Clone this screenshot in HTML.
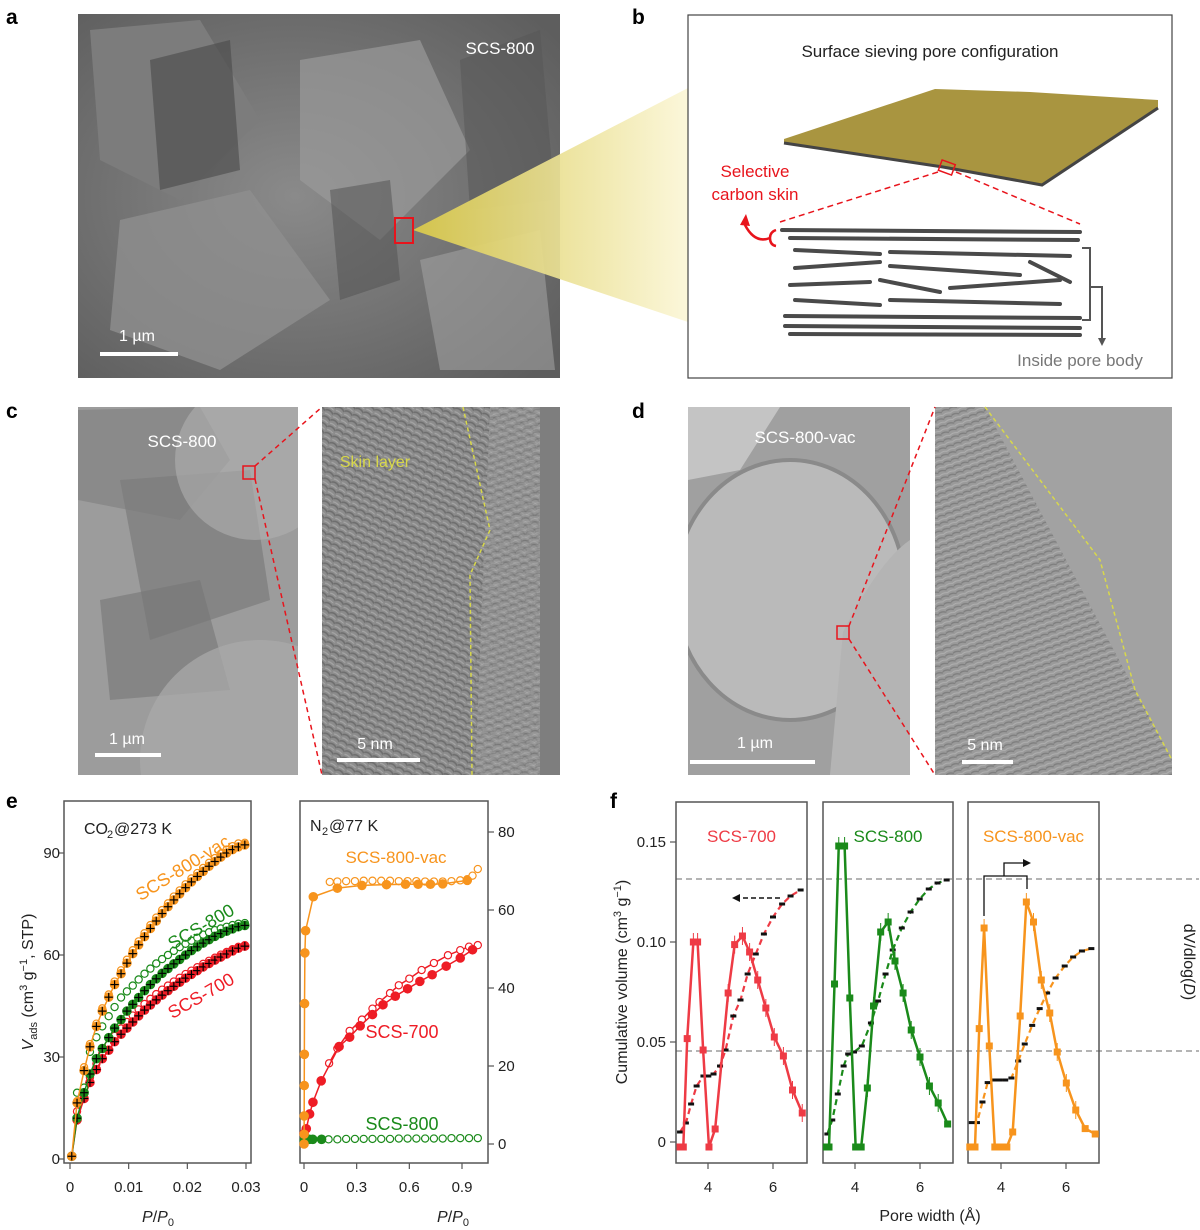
<!DOCTYPE html>
<html><head><meta charset="utf-8"><style>
html,body{margin:0;padding:0;background:#fff;}
svg{display:block;font-family:"Liberation Sans",sans-serif;}
</style></head><body>
<svg id="fig" width="1200" height="1230" viewBox="0 0 1200 1230" xmlns="http://www.w3.org/2000/svg">
<defs>
<linearGradient id="cone" x1="0" y1="0" x2="1" y2="0"><stop offset="0" stop-color="#d8c84a" stop-opacity="0.95"/><stop offset="1" stop-color="#fbf6d6" stop-opacity="0.9"/></linearGradient>
<radialGradient id="sem" cx="0.45" cy="0.5" r="0.7"><stop offset="0" stop-color="#8a8a8a"/><stop offset="1" stop-color="#5e5e5e"/></radialGradient>
<pattern id="hr" width="9" height="7" patternUnits="userSpaceOnUse" patternTransform="rotate(25)"><rect width="9" height="7" fill="#8c8c8c"/><path d="M0 3 Q4 0 9 4" stroke="#6e6e6e" stroke-width="1.6" fill="none"/><path d="M1 6 Q4 5 8 7" stroke="#a8a8a8" stroke-width="1.2" fill="none"/></pattern>
<pattern id="hr2" width="8" height="7" patternUnits="userSpaceOnUse" patternTransform="rotate(-20)"><rect width="8" height="7" fill="#9a9a9a"/><path d="M0 2 Q3 0 8 3" stroke="#7e7e7e" stroke-width="1.3" fill="none"/><path d="M0 6 Q3 4 8 6" stroke="#b0b0b0" stroke-width="1" fill="none"/></pattern>
<clipPath id="clipA"><rect x="78" y="14" width="482" height="364"/></clipPath>
<clipPath id="clipC1"><rect x="78" y="407" width="220" height="368"/></clipPath>
<clipPath id="clipC2"><rect x="322" y="407" width="238" height="368"/></clipPath>
<clipPath id="clipD1"><rect x="688" y="407" width="222" height="368"/></clipPath>
<clipPath id="clipD2"><rect x="935" y="407" width="237" height="368"/></clipPath>
</defs>

<g font-weight="bold" font-size="21" fill="#000">
<text x="6" y="24">a</text>
<text x="632" y="24">b</text>
<text x="6" y="418">c</text>
<text x="632" y="418">d</text>
<text x="6" y="808">e</text>
<text x="610" y="808">f</text>
</g>

<g clip-path="url(#clipA)">
<rect x="78" y="14" width="482" height="364" fill="url(#sem)"/>
<path d="M90 30 L200 20 L260 120 L180 200 L100 160 Z" fill="#7c7c7c"/>
<path d="M300 60 L420 40 L470 150 L380 240 L300 180 Z" fill="#9a9a9a" opacity="0.7"/>
<path d="M120 220 L250 190 L330 300 L220 370 L110 330 Z" fill="#8e8e8e" opacity="0.8"/>
<path d="M420 260 L540 230 L555 370 L440 370 Z" fill="#a0a0a0" opacity="0.6"/>
<path d="M150 60 L230 40 L240 170 L160 190 Z" fill="#4a4a4a" opacity="0.6"/>
<path d="M330 190 L390 180 L400 280 L340 300 Z" fill="#505050" opacity="0.5"/>
<path d="M460 60 L540 30 L555 200 L470 210 Z" fill="#555" opacity="0.5"/>
</g>
<polygon points="413,230 688,88 688,322" fill="url(#cone)"/>
<rect x="395" y="218" width="18" height="25" fill="none" stroke="#e8141c" stroke-width="2"/>
<text x="500" y="54" fill="#fff" font-size="17" text-anchor="middle">SCS-800</text>
<line x1="100" y1="354" x2="178" y2="354" stroke="#fff" stroke-width="4"/>
<text x="137" y="341" fill="#fff" font-size="16" text-anchor="middle">1 µm</text>

<g>
<rect x="688" y="15" width="484" height="363" fill="#fff" stroke="#444" stroke-width="1.2"/>
<text x="930" y="57" font-size="17" text-anchor="middle" fill="#222">Surface sieving pore configuration</text>
<polygon points="784,139 935,89 1030,92 1158,100 1158,108 1042,185 943,167 784,143" fill="#a99540"/>
<polyline points="784,143 943,167 1042,185 1158,108" fill="none" stroke="#444" stroke-width="3"/>
<rect x="940" y="162" width="14" height="11" fill="none" stroke="#e8141c" stroke-width="1.5" transform="rotate(20 947 167)"/>
<line x1="938" y1="172" x2="780" y2="222" stroke="#e8141c" stroke-width="1.5" stroke-dasharray="6,4"/>
<line x1="956" y1="172" x2="1080" y2="224" stroke="#e8141c" stroke-width="1.5" stroke-dasharray="6,4"/>
<text x="755" y="177" font-size="17" fill="#e8141c" text-anchor="middle">Selective</text>
<text x="755" y="200" font-size="17" fill="#e8141c" text-anchor="middle">carbon skin</text>
<path d="M776 230 Q770 232 770 238 Q755 244 745 225 M770 238 Q770 245 776 246" fill="none" stroke="#e8141c" stroke-width="2.5"/>
<polygon points="740,225 746,214 750,226" fill="#e8141c"/>
<g stroke="#4a4a4a" stroke-width="4" stroke-linecap="round">
<line x1="782" y1="230" x2="1080" y2="232"/><line x1="790" y1="238" x2="1078" y2="240"/>
<line x1="795" y1="250" x2="880" y2="254"/><line x1="890" y1="252" x2="1070" y2="256"/>
<line x1="795" y1="268" x2="880" y2="262"/><line x1="890" y1="266" x2="1020" y2="275"/><line x1="1030" y1="262" x2="1070" y2="282"/>
<line x1="790" y1="285" x2="870" y2="282"/><line x1="880" y1="280" x2="940" y2="292"/><line x1="950" y1="288" x2="1060" y2="280"/>
<line x1="795" y1="300" x2="880" y2="305"/><line x1="890" y1="300" x2="1060" y2="304"/>
<line x1="785" y1="316" x2="1080" y2="318"/><line x1="785" y1="326" x2="1080" y2="328"/><line x1="790" y1="334" x2="1080" y2="335"/>
</g>
<polyline points="1082,248 1090,248 1090,320 1082,320" fill="none" stroke="#555" stroke-width="2"/>
<polyline points="1090,287 1102,287 1102,340" fill="none" stroke="#555" stroke-width="2"/>
<polygon points="1098,338 1106,338 1102,346" fill="#555"/>
<text x="1080" y="366" font-size="17" fill="#777" text-anchor="middle">Inside pore body</text>
</g>

<g clip-path="url(#clipC1)">
<rect x="78" y="407" width="220" height="368" fill="#9c9c9c"/>
<path d="M78 410 L200 407 L230 460 L180 520 L78 500 Z" fill="#8a8a8a"/>
<path d="M120 480 L250 470 L270 600 L150 640 Z" fill="#7c7c7c" opacity="0.7"/>
<path d="M100 600 L200 580 L230 690 L110 700 Z" fill="#777" opacity="0.6"/>
<circle cx="255" cy="460" r="80" fill="#b0b0b0" opacity="0.6"/>
<circle cx="260" cy="760" r="120" fill="#ababab" opacity="0.7"/>
</g>
<g clip-path="url(#clipC2)">
<rect x="322" y="407" width="238" height="368" fill="url(#hr)"/>
<path d="M490 407 L560 407 L560 775 L475 775 Z" fill="url(#hr2)" opacity="0.6"/>
<rect x="540" y="407" width="20" height="368" fill="#7e7e7e"/>
</g>
<polyline points="463,407 490,530 470,575 472,775" fill="none" stroke="#d8d84a" stroke-width="1.5" stroke-dasharray="4,3"/>
<rect x="243" y="466" width="12" height="13" fill="none" stroke="#e8141c" stroke-width="1.5"/>
<line x1="255" y1="466" x2="322" y2="407" stroke="#e8141c" stroke-width="1.5" stroke-dasharray="5,4"/>
<line x1="255" y1="479" x2="322" y2="775" stroke="#e8141c" stroke-width="1.5" stroke-dasharray="5,4"/>
<text x="182" y="447" fill="#fff" font-size="17" text-anchor="middle">SCS-800</text>
<text x="375" y="467" fill="#d8d84a" font-size="16" text-anchor="middle">Skin layer</text>
<line x1="95" y1="755" x2="161" y2="755" stroke="#fff" stroke-width="4"/>
<text x="127" y="744" fill="#fff" font-size="16" text-anchor="middle">1 µm</text>
<line x1="337" y1="760" x2="420" y2="760" stroke="#fff" stroke-width="4"/>
<text x="375" y="749" fill="#fff" font-size="16" text-anchor="middle">5 nm</text>

<g clip-path="url(#clipD1)">
<rect x="688" y="407" width="222" height="368" fill="#a0a0a0"/>
<ellipse cx="790" cy="590" rx="115" ry="130" fill="#bababa" stroke="#8a8a8a" stroke-width="4"/>
<path d="M843 632 Q880 560 910 540 L910 775 L830 775 Z" fill="#b4b4b4"/>
<path d="M688 407 L780 407 L740 470 L688 480 Z" fill="#c4c4c4"/>
</g>
<g clip-path="url(#clipD2)">
<rect x="935" y="407" width="237" height="368" fill="url(#hr2)"/>
<path d="M985 407 L1172 407 L1172 760 L1135 690 Z" fill="#a2a2a2"/>
</g>
<polyline points="985,407 1040,480 1100,560 1135,690 1172,760" fill="none" stroke="#d8d84a" stroke-width="1.5" stroke-dasharray="4,3"/>
<rect x="837" y="626" width="12" height="13" fill="none" stroke="#e8141c" stroke-width="1.5"/>
<line x1="849" y1="626" x2="935" y2="407" stroke="#e8141c" stroke-width="1.5" stroke-dasharray="5,4"/>
<line x1="849" y1="639" x2="935" y2="775" stroke="#e8141c" stroke-width="1.5" stroke-dasharray="5,4"/>
<text x="805" y="443" fill="#fff" font-size="17" text-anchor="middle">SCS-800-vac</text>
<line x1="690" y1="762" x2="815" y2="762" stroke="#fff" stroke-width="4"/>
<text x="755" y="748" fill="#fff" font-size="16" text-anchor="middle">1 µm</text>
<line x1="962" y1="762" x2="1013" y2="762" stroke="#fff" stroke-width="4"/>
<text x="985" y="750" fill="#fff" font-size="16" text-anchor="middle">5 nm</text>

<g id="charts"></g>
</svg>
<script>
// ---- panel e, CO2 ----
const co2X = [0.0003,0.0012,0.0024,0.0034,0.0045,0.0055,0.0066,0.0076,0.0087,0.0097,0.0107,0.0117,0.0127,0.0137,0.0147,0.0157,0.0167,0.0177,0.0187,0.0197,0.0207,0.0217,0.0227,0.0237,0.0247,0.0257,0.0267,0.0277,0.0287,0.0298];
const co2Vac = [0.8,16.5,26,33,39,43.5,47.6,51.3,54.5,57.6,60.4,63,65.4,67.8,70,72.2,74.2,76.2,78,79.8,81.5,83.1,84.6,86.1,87.5,88.8,90,91,91.8,92.4];
const co2VacDes = [0.8,17,27,33.8,39.8,44.3,48.4,52.2,55.5,58.6,61.4,64,66.4,68.8,71,73.2,75.2,77.2,79,80.8,82.5,84.1,85.6,87.1,88.5,89.8,91,92,92.8,93];
const co2S800 = [0.8,12,19.5,25,29.5,32.5,35.7,38.5,41,43.5,45.5,47.5,49.5,51.3,53,54.6,56,57.4,58.7,60,61.3,62.4,63.5,64.5,65.5,66.3,67,67.7,68.3,68.7];
const co2S800Des = [0.8,19.5,21,31.5,35.8,39,42,44.7,47.5,49.3,51,52.8,54.5,56,57.5,58.8,60,61.2,62.3,63.3,64.2,65.1,66,66.7,67.3,67.8,68.3,68.8,69.2,69.4];
const co2S700 = [0.8,11.5,17.8,22.5,26.3,29.5,32,34.5,36.7,38.5,40.3,42.1,43.8,45.3,46.8,48.2,49.5,50.8,52,53.2,54.3,55.4,56.5,57.5,58.5,59.4,60.3,61.2,62,62.6];
const co2S700Des = [0.8,14,19,24,28,31,33.6,36.2,38.4,40.3,42.2,44,45.6,47.1,48.5,49.8,51,52.2,53.3,54.4,55.4,56.4,57.4,58.3,59.2,60.1,60.9,61.7,62.4,62.9];
const co2XTicks = [0,0.01,0.02,0.03];
const co2YTicks = [0,30,60,90];
// ---- panel e, N2 ----
const n2VacX = [0.0003,0.0006,0.001,0.0015,0.002,0.003,0.005,0.009,0.053,0.19,0.33,0.47,0.578,0.65,0.72,0.79,0.93];
const n2Vac = [0,2.5,7.2,15,23,36,49,54.7,63.4,65.6,66.3,66.5,66.6,66.6,66.6,66.7,67.6];
const n2VacDesX = [0.147,0.19,0.24,0.29,0.34,0.39,0.44,0.49,0.54,0.59,0.64,0.69,0.74,0.79,0.84,0.89,0.93,0.96,0.99];
const n2VacDes = [67.2,67.3,67.4,67.4,67.5,67.5,67.5,67.5,67.4,67.4,67.4,67.3,67.3,67.3,67.4,67.6,67.9,68.8,70.5];
const n2S700X = [0.0005,0.013,0.032,0.051,0.098,0.2,0.26,0.32,0.39,0.45,0.52,0.59,0.66,0.73,0.81,0.89,0.96];
const n2S700 = [2.7,3.9,7.7,10.7,16.2,25,27.4,30.3,33.2,35.7,37.9,39.8,41.7,43.4,45.6,47.7,49.8];
const n2S700DesX = [0.143,0.19,0.26,0.33,0.39,0.43,0.49,0.54,0.6,0.67,0.74,0.82,0.89,0.94,0.99];
const n2S700Des = [20.7,24.5,29,31.9,34.7,36.4,38.7,40.7,42.4,44.6,46.4,48.4,49.7,50.6,51];
const n2S800X = [0.002,0.01,0.02,0.03,0.05,0.1];
const n2S800 = [1.0,1.1,1.2,1.2,1.2,1.2];
const n2S800DesX = [0.05,0.14,0.19,0.24,0.29,0.34,0.39,0.44,0.49,0.54,0.59,0.64,0.69,0.74,0.79,0.84,0.89,0.94,0.99];
const n2S800Des = [1.2,1.2,1.2,1.3,1.3,1.3,1.3,1.3,1.3,1.4,1.4,1.4,1.4,1.4,1.4,1.5,1.5,1.5,1.5];
const n2XTicks = [0,0.3,0.6,0.9];
const n2YTicks = [0,20,40,60,80];
// ---- panel f ----
const p700X = [3.14,3.24,3.36,3.55,3.68,3.85,4.03,4.22,4.62,4.82,5.06,5.28,5.53,5.78,6.04,6.32,6.6,6.9];
const p700 = [-0.0025,-0.0025,0.0517,0.1,0.1,0.046,-0.0025,0.0065,0.0745,0.0987,0.103,0.095,0.081,0.067,0.0525,0.043,0.026,0.0145];
const c700X = [3.14,3.32,3.48,3.65,3.86,4.01,4.17,4.37,4.54,4.78,5.0,5.22,5.47,5.72,6.0,6.28,6.54,6.85];
const c700 = [0.005,0.0095,0.019,0.028,0.033,0.033,0.034,0.038,0.046,0.063,0.071,0.084,0.094,0.104,0.1125,0.119,0.123,0.126];
const p800X = [3.12,3.2,3.37,3.5,3.68,3.84,4.02,4.19,4.38,4.57,4.79,5.02,5.23,5.48,5.73,6.0,6.29,6.56,6.85];
const p800 = [-0.0025,-0.0025,0.079,0.148,0.148,0.072,-0.0025,-0.0025,0.027,0.068,0.105,0.11,0.0905,0.0745,0.056,0.0425,0.028,0.0195,0.009];
const c800X = [3.15,3.3,3.47,3.65,3.79,3.97,4.21,4.49,4.71,4.94,5.16,5.44,5.71,5.99,6.27,6.54,6.82];
const c800 = [0.004,0.011,0.024,0.038,0.044,0.045,0.048,0.0595,0.0705,0.084,0.096,0.107,0.115,0.1215,0.1265,0.1295,0.131];
const pVacX = [3.04,3.2,3.33,3.48,3.64,3.81,4.0,4.18,4.36,4.59,4.78,5.0,5.24,5.5,5.73,6.01,6.3,6.59,6.9];
const pVac = [-0.0025,-0.0025,0.0567,0.107,0.048,-0.0025,-0.0025,-0.0025,0.005,0.063,0.12,0.11,0.081,0.0645,0.045,0.0295,0.016,0.0067,0.004];
const cVacX = [3.1,3.26,3.43,3.59,3.77,3.95,4.13,4.32,4.53,4.73,4.96,5.19,5.42,5.68,5.96,6.22,6.49,6.78];
const cVac = [0.0097,0.0097,0.02,0.0297,0.031,0.031,0.031,0.032,0.0405,0.049,0.0583,0.0667,0.0745,0.082,0.088,0.0925,0.0955,0.0967];
const fYTicks = [0,0.05,0.10,0.15];
const fYTickLabels = ['0','0.05','0.10','0.15'];
const fXTicks = [4,6];

const NS='http://www.w3.org/2000/svg';
const root=document.getElementById('charts');
function mk(tag,attrs,parent){const e=document.createElementNS(NS,tag);for(const k in attrs)e.setAttribute(k,attrs[k]);(parent||root).appendChild(e);return e;}
function txt(x,y,s,attrs,parent){const e=mk('text',Object.assign({x:x,y:y},attrs),parent);e.textContent=s;return e;}

const RED='#ee1c25', GRN='#1a8a1a', ORG='#f7941d';

const cx=v=>70+v*(176/0.03), cy=v=>1159-v*(102/30);
const gE1=mk('g',{});


mk('rect',{x:64,y:801,width:187,height:362,fill:'none',stroke:'#555','stroke-width':1.5},gE1);
co2XTicks.forEach(t=>{mk('line',{x1:cx(t),y1:1163,x2:cx(t),y2:1169,stroke:'#555','stroke-width':1.2},gE1);
 const l=txt(cx(t),1192,String(t),{'font-size':15,'text-anchor':'middle',fill:'#222'},gE1);
 
 });
co2YTicks.forEach(t=>{mk('line',{x1:58,y1:cy(t),x2:64,y2:cy(t),stroke:'#555','stroke-width':1.2},gE1);
 const l=txt(60,cy(t)+5,String(t),{'font-size':15,'text-anchor':'end',fill:'#222'},gE1);
 
 });
function series(xs,ys,fx,fy,col,filled,line,parent,name,r,cross){
 const g=mk('g',{},parent);
 
 
 if(line){mk('polyline',{points:xs.map((x,i)=>fx(x)+','+fy(ys[i])).join(' '),fill:'none',stroke:col,'stroke-width':1.5},g);}
 xs.forEach((x,i)=>{const c=mk('circle',{cx:fx(x),cy:fy(ys[i]),r:r,fill:filled?col:'#fff',stroke:col,'stroke-width':1.2},g);
  
  
  if(cross){mk('line',{x1:fx(x)-r,y1:fy(ys[i]),x2:fx(x)+r,y2:fy(ys[i]),stroke:'#000','stroke-width':1.2},g);mk('line',{x1:fx(x),y1:fy(ys[i])-r,x2:fx(x),y2:fy(ys[i])+r,stroke:'#000','stroke-width':1.2},g);}});
}
series(co2X,co2S700Des,cx,cy,RED,false,false,gE1,'co2-scs700-desorption',3.6);
series(co2X,co2S700,cx,cy,RED,true,true,gE1,'co2-scs700-adsorption',4.2,true);
series(co2X,co2S800Des,cx,cy,GRN,false,false,gE1,'co2-scs800-desorption',3.6);
series(co2X,co2S800,cx,cy,GRN,true,true,gE1,'co2-scs800-adsorption',4.2,true);
series(co2X,co2VacDes,cx,cy,ORG,false,false,gE1,'co2-scs800vac-desorption',3.6);
series(co2X,co2Vac,cx,cy,ORG,true,true,gE1,'co2-scs800vac-adsorption',4.2,true);
txt(84,834,'CO',{'font-size':16,fill:'#222'},gE1);
txt(107,838,'2',{'font-size':11,fill:'#222'},gE1);
txt(114,834,'@273 K',{'font-size':16,fill:'#222'},gE1);
txt(186,873,'SCS-800-vac',{'font-size':18,fill:ORG,'text-anchor':'middle',transform:'rotate(-32 186 873)'},gE1);
txt(204,932,'SCS-800',{'font-size':18,fill:GRN,'text-anchor':'middle',transform:'rotate(-30 204 932)'},gE1);
txt(204,1001,'SCS-700',{'font-size':18,fill:RED,'text-anchor':'middle',transform:'rotate(-30 204 1001)'},gE1);
const ylE=txt(0,0,'',{'font-size':16,fill:'#222','text-anchor':'middle',transform:'translate(33 982) rotate(-90)'},gE1);
ylE.innerHTML='<tspan font-style="italic">V</tspan><tspan font-size="11" dy="4">ads</tspan><tspan dy="-4"> (cm</tspan><tspan font-size="11" dy="-6">3</tspan><tspan dy="6"> g</tspan><tspan font-size="11" dy="-6">−1</tspan><tspan dy="6">, STP)</tspan>';


const xlE1=txt(158,1222,'',{'font-size':16,fill:'#222','text-anchor':'middle'},gE1);
xlE1.innerHTML='<tspan font-style="italic">P</tspan>/<tspan font-style="italic">P</tspan><tspan font-size="11" dy="4">0</tspan>';



const nx=v=>304+v*(158/0.9), ny=v=>1144-v*(312/80);
const gE2=mk('g',{});


mk('rect',{x:300,y:801,width:188,height:362,fill:'none',stroke:'#555','stroke-width':1.5},gE2);
n2XTicks.forEach(t=>{mk('line',{x1:nx(t),y1:1163,x2:nx(t),y2:1169,stroke:'#555','stroke-width':1.2},gE2);
 const l=txt(nx(t),1192,String(t),{'font-size':15,'text-anchor':'middle',fill:'#222'},gE2);
 
 });
n2YTicks.forEach(t=>{mk('line',{x1:488,y1:ny(t),x2:494,y2:ny(t),stroke:'#555','stroke-width':1.2},gE2);
 const l=txt(498,ny(t)+5,String(t),{'font-size':15,'text-anchor':'start',fill:'#222'},gE2);
 
 });
series(n2S800DesX,n2S800Des,nx,ny,GRN,false,false,gE2,'n2-scs800-desorption',3.6);
series(n2S800X,n2S800,nx,ny,GRN,true,true,gE2,'n2-scs800-adsorption',4.2);
series(n2S700DesX,n2S700Des,nx,ny,RED,false,true,gE2,'n2-scs700-desorption',3.6);
series(n2S700X,n2S700,nx,ny,RED,true,true,gE2,'n2-scs700-adsorption',4.2);
series(n2VacDesX,n2VacDes,nx,ny,ORG,false,false,gE2,'n2-scs800vac-desorption',3.6);
series(n2VacX,n2Vac,nx,ny,ORG,true,true,gE2,'n2-scs800vac-adsorption',4.2);
txt(310,831,'N',{'font-size':16,fill:'#222'},gE2);
txt(322,835,'2',{'font-size':11,fill:'#222'},gE2);
txt(329,831,'@77 K',{'font-size':16,fill:'#222'},gE2);
txt(396,863,'SCS-800-vac',{'font-size':17,fill:ORG,'text-anchor':'middle'},gE2);
txt(402,1038,'SCS-700',{'font-size':18,fill:RED,'text-anchor':'middle'},gE2);
txt(402,1130,'SCS-800',{'font-size':18,fill:GRN,'text-anchor':'middle'},gE2);
const xlE2=txt(453,1222,'',{'font-size':16,fill:'#222','text-anchor':'middle'},gE2);
xlE2.innerHTML='<tspan font-style="italic">P</tspan>/<tspan font-style="italic">P</tspan><tspan font-size="11" dy="4">0</tspan>';



const fy=v=>1142-v*2000;
const gF=mk('g',{});


[879,1051].forEach(y=>mk('line',{x1:676,y1:y,x2:1199,y2:y,stroke:'#888','stroke-width':1.3,'stroke-dasharray':'6,4'},gF));
const panels=[
 {left:676,w:131,x4:708,px:p700X,pv:p700,cxs:c700X,cv:c700,col:'#ee3b45',name:'scs700',label:'SCS-700'},
 {left:823,w:130,x4:855,px:p800X,pv:p800,cxs:c800X,cv:c800,col:'#1a8a1a',name:'scs800',label:'SCS-800'},
 {left:968,w:131,x4:1001,px:pVacX,pv:pVac,cxs:cVacX,cv:cVac,col:ORG,name:'scs800vac',label:'SCS-800-vac'}];
panels.forEach(p=>{
 const fx=v=>p.x4+(v-4)*32.5;
 const g=mk('g',{},gF);
 
 
 mk('rect',{x:p.left,y:802,width:p.w,height:361,fill:'none',stroke:'#555','stroke-width':1.5},g);
 fXTicks.forEach(t=>{mk('line',{x1:fx(t),y1:1163,x2:fx(t),y2:1169,stroke:'#555','stroke-width':1.2},g);
  const l=txt(fx(t),1192,String(t),{'font-size':15,'text-anchor':'middle',fill:'#222'},g);
  
  });
 const cl=mk('polyline',{points:p.cxs.map((x,i)=>fx(x)+','+fy(p.cv[i])).join(' '),fill:'none',stroke:p.col,'stroke-width':2.2,'stroke-dasharray':'6,4'},g);
 
 
 p.cxs.forEach((x,i)=>{const d=mk('rect',{x:fx(x)-3,y:fy(p.cv[i])-1.5,width:6,height:3,fill:'#111'},g);
  
  });
 const dl=mk('polyline',{points:p.px.map((x,i)=>fx(x)+','+fy(p.pv[i])).join(' '),fill:'none',stroke:p.col,'stroke-width':2.5},g);
 
 
 p.px.forEach((x,i)=>{const s=mk('rect',{x:fx(x)-3.5,y:fy(p.pv[i])-3.5,width:7,height:7,fill:p.col},g);
  
  
  if(p.pv[i]>0.01){mk('line',{x1:fx(x),y1:fy(p.pv[i])-9,x2:fx(x),y2:fy(p.pv[i])+9,stroke:p.col,'stroke-width':1},g);}});
 txt(p.left+p.w/2,842,p.label,{'font-size':17,fill:p.col,'text-anchor':'middle'},g);
});
fYTicks.forEach((t,i)=>{mk('line',{x1:670,y1:fy(t),x2:676,y2:fy(t),stroke:'#555','stroke-width':1.2},gF);
 const l=txt(666,fy(t)+5,fYTickLabels[i],{'font-size':15,'text-anchor':'end',fill:'#222'},gF);
 
 });
mk('line',{x1:780,y1:898,x2:738,y2:898,stroke:'#111','stroke-width':1.5,'stroke-dasharray':'5,3'},gF);
mk('polygon',{points:'732,898 740,894 740,902',fill:'#111'},gF);
mk('polyline',{points:'984,916 984,876 1027,876 1027,889',fill:'none',stroke:'#111','stroke-width':1.3},gF);
mk('polyline',{points:'1004,876 1004,863 1025,863',fill:'none',stroke:'#111','stroke-width':1.3},gF);
mk('polygon',{points:'1031,863 1023,859 1023,867',fill:'#111'},gF);
const ylF=txt(0,0,'',{'font-size':16,fill:'#222','text-anchor':'middle',transform:'translate(627 982) rotate(-90)'},gF);
ylF.innerHTML='Cumulative volume (cm<tspan font-size="11" dy="-6">3</tspan><tspan dy="6"> g</tspan><tspan font-size="11" dy="-6">−1</tspan><tspan dy="6">)</tspan>';


const yrF=txt(0,0,'',{'font-size':16,fill:'#222','text-anchor':'middle',transform:'translate(1184 962) rotate(90)'},gF);
yrF.innerHTML='dV/dlog(<tspan font-style="italic">D</tspan>)';


const xlF=txt(930,1221,'Pore width (Å)',{'font-size':16,fill:'#222','text-anchor':'middle'},gF);


</script>
</body></html>
